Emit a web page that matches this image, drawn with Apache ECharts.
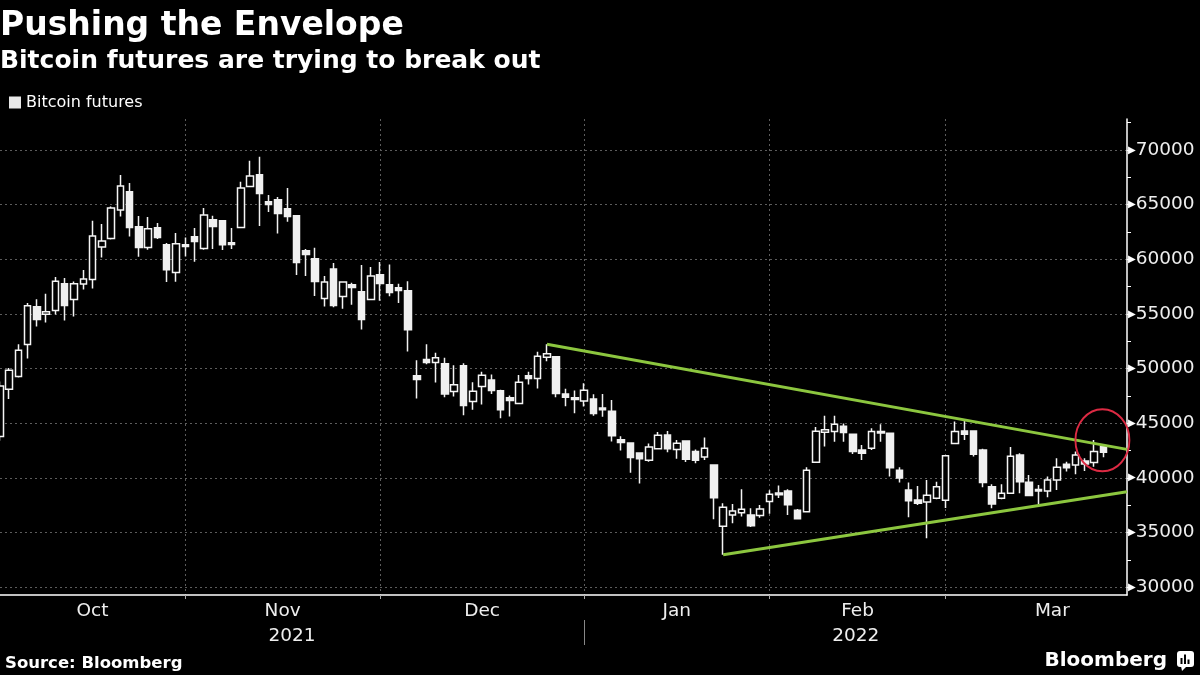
<!DOCTYPE html>
<html>
<head>
<meta charset="utf-8">
<script src="https://cdn.jsdelivr.net/npm/echarts@6/dist/echarts.min.js"></script>
<style>html,body{margin:0;padding:0;background:#000}#c{width:1200px;height:675px}</style>
</head>
<body>
<div id="c"></div>
<script>
// Trading sessions (index 0 = 2021-10-01)
const dates = [
 '2021-10-01','2021-10-04','2021-10-05','2021-10-06','2021-10-07','2021-10-08','2021-10-12','2021-10-13','2021-10-14','2021-10-15',
 '2021-10-18','2021-10-19','2021-10-20','2021-10-21','2021-10-22','2021-10-25','2021-10-26','2021-10-27','2021-10-28','2021-10-29',
 '2021-11-01','2021-11-02','2021-11-03','2021-11-04','2021-11-05','2021-11-08','2021-11-09','2021-11-10','2021-11-11','2021-11-12',
 '2021-11-15','2021-11-16','2021-11-17','2021-11-18','2021-11-19','2021-11-22','2021-11-23','2021-11-24','2021-11-26','2021-11-29',
 '2021-11-30','2021-12-01','2021-12-02','2021-12-03','2021-12-06','2021-12-07','2021-12-08','2021-12-09','2021-12-10','2021-12-13',
 '2021-12-14','2021-12-15','2021-12-16','2021-12-17','2021-12-20','2021-12-21','2021-12-22','2021-12-23','2021-12-27','2021-12-28',
 '2021-12-29','2021-12-30','2021-12-31','2022-01-03','2022-01-04','2022-01-05','2022-01-06','2022-01-07','2022-01-10','2022-01-11',
 '2022-01-12','2022-01-13','2022-01-14','2022-01-18','2022-01-19','2022-01-20','2022-01-21','2022-01-24','2022-01-25','2022-01-26',
 '2022-01-27','2022-01-28','2022-01-31','2022-02-01','2022-02-02','2022-02-03','2022-02-04','2022-02-07','2022-02-08','2022-02-09',
 '2022-02-10','2022-02-11','2022-02-14','2022-02-15','2022-02-16','2022-02-17','2022-02-18','2022-02-22','2022-02-23','2022-02-24',
 '2022-02-25','2022-02-28','2022-03-01','2022-03-02','2022-03-03','2022-03-04','2022-03-07','2022-03-08','2022-03-09','2022-03-10',
 '2022-03-11','2022-03-14','2022-03-15','2022-03-16','2022-03-17','2022-03-18','2022-03-21','2022-03-22','2022-03-23','2022-03-24'
];
const opens = [
 43770,48110,49270,52200,55650,54980,55310,57760,56320,57730,
 58150,61120,61900,64510,66180,62980,61080,62880,61330,58790,
 61330,62060,60990,63620,63530,61510,62910,66670,67740,65270,
 65450,64620,63980,60780,60050,56410,59100,56590,57660,57020,
 56320,58580,57660,57390,57110,49330,50820,50550,50430,47890,
 50250,46980,48350,48960,47960,47320,46790,49330,49080,51030,
 51070,47680,47320,47040,47220,46400,46100,43490,43190,42270,
 41600,42670,43920,42580,43380,42410,41900,41180,35570,36600,
 36810,36600,36560,37820,38620,38800,37030,36900,41430,44170,
 44230,44720,43990,42550,42700,44230,44080,40690,38890,37970,
 37790,38130,37950,43140,44290,44290,42550,39170,38130,38590,
 42090,39600,38920,38800,39810,41240,41180,41540,41390,42860
];
const closes = [
 48410,49850,51680,55740,54490,55190,58000,55770,57760,58190,
 62120,61670,64690,66700,62910,61080,62790,62000,59040,61420,
 61170,61630,64050,63000,61330,61350,66520,67620,66030,65020,
 64190,63920,59710,60440,57970,57910,55770,57910,57420,54490,
 58460,57780,56960,57140,53540,48990,50550,50980,47680,48510,
 46610,47930,49390,47980,46240,47070,48750,49080,51130,51350,
 47710,47370,47160,48020,45880,46240,43860,43220,41850,41750,
 42830,43900,42670,43170,41690,41600,42700,38180,37310,36970,
 37120,35620,37150,38500,38460,37540,36260,40690,44270,44390,
 44910,44140,42400,42250,44230,44110,40930,39990,37910,37670,
 38410,39190,42030,44230,43990,42160,39560,37610,38590,41980,
 39650,38370,38800,39810,40970,40930,42090,41270,42400,42340
];
const lows = [
 43400,47220,49170,50910,53850,54210,54940,54390,54760,57230,
 57330,60160,61810,63920,62090,60230,60870,61850,57910,57940,
 60260,59770,60870,60930,60840,60930,62850,66610,63040,64320,
 62360,63430,58550,58460,56630,55680,55620,55470,55830,53570,
 56250,56200,56610,55990,51570,47250,50400,48720,47380,47440,
 45730,46240,46700,47680,45460,45600,46750,48530,48170,50670,
 47380,46560,45910,46520,45690,45580,43330,42510,40470,39490,
 41460,42580,42340,41750,41440,41340,41620,36210,32950,35830,
 36450,35500,36350,36720,38160,36600,36200,36850,41380,42860,
 43310,43310,42190,41640,42550,43310,40110,39570,36390,37520,
 34470,38040,37240,43070,43470,41940,39140,37210,38040,38540,
 38590,38320,37610,38220,38890,40570,40330,40630,41020,41890
];
const highs = [
 48810,50040,52230,55990,56350,56840,58370,58280,57970,59010,
 63530,63220,64830,67710,66980,63960,63860,63310,61480,62400,
 62000,62860,64690,63980,63600,62860,67100,69020,69390,65880,
 65700,66520,64050,60930,61050,58460,59650,58000,57850,59470,
 59290,59740,59520,57760,57980,50770,52230,51440,50980,50310,
 50490,48750,49700,49450,48050,47530,49420,49700,51530,52230,
 51120,48140,47980,48660,47650,47680,47110,43800,43260,42320,
 43130,44200,44290,43470,43420,42590,43700,41230,37670,37600,
 38960,37210,37520,38860,39290,38960,37150,40970,44660,45670,
 45670,44970,44040,43010,44540,44910,44130,40970,39570,39260,
 39810,39650,42080,45150,45300,44340,42670,39410,39410,42830,
 42250,40260,39350,40110,41790,41480,42400,41790,43470,42900
];

// Axis labels / ticks
const monthNames = ['Oct','Nov','Dec','Jan','Feb','Mar'];
const monthLabelPos = [10, 30.5, 52, 73, 92.5, 113.5];   // session index at month centre
const monthStarts = [20, 41, 63, 83, 102];               // first session of each month
const yearNames = ['2021','2022'];
const yearLabelPos = [31.5, 92.3];
const yearBreak = [63];
const yLabelValues = [30000,35000,40000,45000,50000,55000,60000,65000,70000];
const yTickValues = [30000,32500,35000,37500,40000,42500,45000,47500,50000,52500,55000,57500,60000,62500,65000,67500,70000,72500];

// Annotations (data space)
const upperTrend = [[59, 52230], [121.55, 42600]];
const lowerTrend = [[78, 32950], [121.55, 38720]];
const highlightPoint = [118.9, 43440];

const X_MIN = 0.02, X_MAX = 121.55, Y_MIN = 29274, Y_MAX = 72839;
const FONT = 'DejaVu Sans';

const candleData = dates.map((d, i) => [i, opens[i], closes[i], lows[i], highs[i]]);

const chart = echarts.init(document.getElementById('c'), null, {renderer: 'canvas'});
chart.setOption({
  backgroundColor: '#000',
  animation: false,
  title: [
    {text: 'Pushing the Envelope', left: 0, top: 10, padding: 0,
     textStyle: {color: '#fff', fontFamily: FONT, fontWeight: 'bold', fontSize: 33}},
    {text: 'Bitcoin futures are trying to break out', left: 0, top: 48.5, padding: 0,
     textStyle: {color: '#fff', fontFamily: FONT, fontWeight: 'bold', fontSize: 25}},
    {text: 'Source: Bloomberg', left: 5, top: 655, padding: 0,
     textStyle: {color: '#fff', fontFamily: FONT, fontWeight: 'bold', fontSize: 16.5}},
    {text: 'Bloomberg', right: 33, top: 651, padding: 0,
     textStyle: {color: '#fff', fontFamily: FONT, fontWeight: 'bold', fontSize: 20}}
  ],
  legend: {
    left: 9, top: 94.5, padding: 0, itemWidth: 12, itemHeight: 12,
    data: [{name: 'Bitcoin futures', icon: 'rect', itemStyle: {color: '#e8e8e8', borderWidth: 0}}],
    textStyle: {color: '#fff', fontFamily: FONT, fontSize: 16}
  },
  grid: {left: 0, right: 73, top: 119, bottom: 80, containLabel: false},
  xAxis: [
    {
      type: 'value', min: X_MIN, max: X_MAX, position: 'bottom',
      axisLine: {show: true, lineStyle: {color: '#fff', width: 1.5}},
      axisTick: {show: true, customValues: monthStarts, length: 4, lineStyle: {color: '#aaa'}},
      axisLabel: {show: true, customValues: monthLabelPos, margin: 7,
        color: '#eee', fontFamily: FONT, fontSize: 18.5,
        formatter: v => { const k = monthLabelPos.indexOf(v); return k >= 0 ? monthNames[k] : ''; }},
      splitLine: {show: true, lineStyle: {color: '#5c5c5c', width: 1, type: [2, 3]}}
    },
    {
      type: 'value', min: X_MIN, max: X_MAX, position: 'bottom', offset: 25,
      axisLine: {show: false},
      axisTick: {show: true, customValues: yearBreak, length: 25, lineStyle: {color: '#888'}},
      axisLabel: {show: true, customValues: yearLabelPos, margin: 7,
        color: '#eee', fontFamily: FONT, fontSize: 18.5,
        formatter: v => { const k = yearLabelPos.indexOf(v); return k >= 0 ? yearNames[k] : ''; }},
      splitLine: {show: false}
    }
  ],
  yAxis: [
    {
      type: 'value', min: Y_MIN, max: Y_MAX, position: 'right',
      axisLine: {show: true, lineStyle: {color: '#fff', width: 1.5}},
      axisTick: {show: true, customValues: yTickValues, length: 4, lineStyle: {color: '#fff'}},
      axisLabel: {show: true, customValues: yLabelValues, margin: 1,
        formatter: v => '{t|\u25B6}{v|' + v + '}',
        rich: {
          t: {fontSize: 10, color: '#fff', fontFamily: FONT, verticalAlign: 'middle'},
          v: {fontSize: 18.5, color: '#eee', fontFamily: FONT, verticalAlign: 'middle'}
        }},
      splitLine: {show: false}
    },
    {
      type: 'value', min: Y_MIN, max: Y_MAX, position: 'left',
      axisLine: {show: false},
      axisTick: {show: false, customValues: yLabelValues},
      axisLabel: {show: false, customValues: yLabelValues},
      splitLine: {show: true, lineStyle: {color: '#5c5c5c', width: 1, type: [2, 3]}}
    }
  ],
  graphic: [
    {type: 'rect', shape: {x: 1177, y: 651, width: 17, height: 16, r: 3}, style: {fill: '#fff'}},
    {type: 'polygon', shape: {points: [[1181, 666], [1187, 666], [1182, 671]]}, style: {fill: '#fff'}},
    {type: 'rect', shape: {x: 1180.5, y: 658, width: 2, height: 6}, style: {fill: '#000'}},
    {type: 'rect', shape: {x: 1184, y: 654.5, width: 2, height: 9.5}, style: {fill: '#000'}},
    {type: 'rect', shape: {x: 1187.5, y: 659.5, width: 2, height: 4.5}, style: {fill: '#000'}}
  ],
  series: [
    {
      name: 'Bitcoin futures',
      type: 'candlestick',
      xAxisIndex: 0, yAxisIndex: 0,
      dimensions: ['idx', 'open', 'close', 'low', 'high'],
      encode: {x: 0, y: [1, 2, 3, 4]},
      data: candleData,
      barWidth: 7,
      clip: true,
      itemStyle: {color: '#000', color0: '#f0f0f0', borderColor: '#f5f5f5', borderColor0: '#f0f0f0', borderWidth: 1.5},
      markLine: {
        silent: true, symbol: ['none', 'none'],
        label: {show: false},
        lineStyle: {color: '#8cc63f', width: 3, type: 'solid'},
        data: [
          [{coord: upperTrend[0]}, {coord: upperTrend[1]}],
          [{coord: lowerTrend[0]}, {coord: lowerTrend[1]}]
        ]
      },
      markPoint: {
        silent: true,
        symbol: 'circle', symbolSize: [54, 62],
        label: {show: false},
        itemStyle: {color: 'rgba(0,0,0,0)', borderColor: '#dc2a43', borderWidth: 2},
        data: [{coord: highlightPoint}]
      }
    }
  ]
});
</script>
</body>
</html>
